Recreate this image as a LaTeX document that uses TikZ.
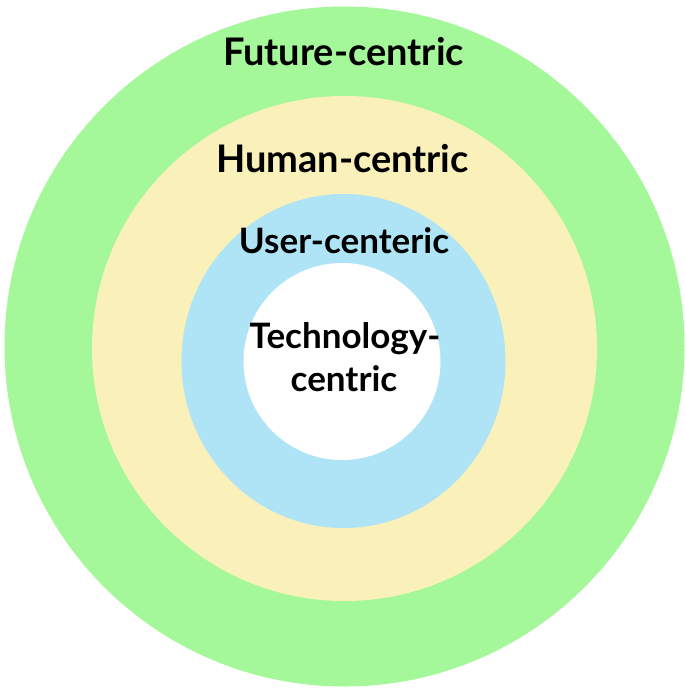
\documentclass[tikz,border=0pt]{standalone}
\usepackage{fontspec}
\setmainfont{Lato}
\usepackage{tikz}
\usetikzlibrary{positioning}
\definecolor{futuregreen}{RGB}{165,248,154}
\definecolor{humanyellow}{RGB}{250,240,185}
\definecolor{userblue}{RGB}{174,228,246}
\tikzset{
  lbl/.style={anchor=base,inner sep=0pt,font=\bfseries\fontsize{38}{43}\selectfont},
  smalllbl/.style={lbl,font=\bfseries\fontsize{35}{43}\selectfont},
}

\begin{document}
\begin{tikzpicture}[x=1pt,y=-1pt]
  \useasboundingbox (0,0) rectangle (685,694);
  % rings, outer to inner
  \fill[futuregreen] (344.5,346.5) circle (340pt);
  \fill[humanyellow] (344.5,348.5) circle (252.5pt);
  \fill[userblue] (343.5,361) ellipse (162pt and 167pt);
  \fill[white] (342,361.5) circle (98.5pt);
  % labels
  \node[lbl] (future) at (343.5,65) {Future-centric};
  \node[lbl] (human) at (342.5,172) {Human-centric};
  \node[smalllbl] (user) at (344,253) {User-centeric};
  \node[smalllbl] (tech) at (345,348) {Technology-};
  \node[smalllbl] (techb) at (344,391) {centric};
\end{tikzpicture}
\end{document}
